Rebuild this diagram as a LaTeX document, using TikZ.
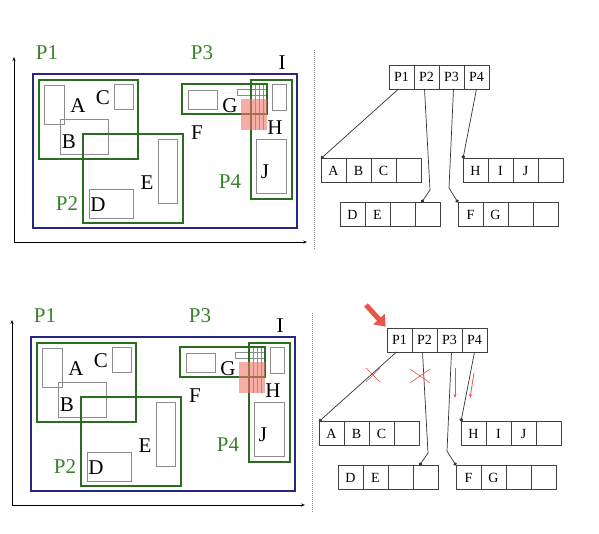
\documentclass[tikz,border=0pt]{standalone}
\usepackage{fontspec}
\setmainfont{Liberation Serif}
\usetikzlibrary{positioning,arrows.meta}
\definecolor{pgreen}{RGB}{40,110,30}
\definecolor{lgreen}{RGB}{55,130,40}
\definecolor{pblue}{RGB}{40,40,130}
\definecolor{pred}{RGB}{235,85,70}
\definecolor{hgray}{RGB}{140,140,140}
\tikzset{
  obj/.style={draw=hgray, line width=0.9pt},
  part/.style={draw=pgreen, line width=1.6pt},
  plabel/.style={text=lgreen, font=\fontsize{21}{21}\selectfont},
  olabel/.style={font=\fontsize{21}{21}\selectfont},
  cell/.style={draw=black!75, line width=0.7pt, minimum width=25pt, minimum height=24pt,
    inner sep=0pt, outer sep=0pt, font=\fontsize{14}{14}\selectfont},
  ptr/.style={draw=black!80, line width=0.7pt, -{Circle[length=3.5pt]}},
}
\begin{document}
\begin{tikzpicture}[x=1pt,y=-1pt]
\useasboundingbox (0,0) rectangle (599,533);
\foreach \dx/\dy/\pn in {0/0/t,-2/263/b}{
\begin{scope}[shift={(\dx,\dy)}, name prefix=\pn-]
  % axes and separator
  \coordinate (o) at (14,242);
  \draw[line width=0.6pt, -{Stealth[length=4pt]}] (o) -- (14,57);
  \draw[line width=0.6pt, -{Stealth[length=4pt]}] (o) -- (307,242);
  \draw[hgray, dash pattern=on 1pt off 1pt, line width=0.7pt] (314,50) -- (314,250);
  % objects
  \draw[obj] (44,85) rectangle (64,124);   % A
  \draw[obj] (114,84) rectangle (133,109); % C
  \draw[obj] (60,119) rectangle (108,154); % B
  \draw[obj] (158,139) rectangle (177,203); % E
  \draw[obj] (89,189) rectangle (133,218); % D
  \draw[obj] (188,90) rectangle (217,109); % F
  \draw[obj] (237,89) rectangle (266,95);  % G
  \draw[obj] (272,84) rectangle (286,110); % I
  \draw[obj] (256,139) rectangle (286,193); % J
  \foreach \gx in {255,259,263}
    \draw[hgray, line width=0.5pt] (\gx,84) -- (\gx,130);
  % partitions
  \draw[part] (39,80) rectangle (138,159);
  \draw[part] (83,134) rectangle (183,223);
  \draw[part] (182,84) rectangle (267,114);
  \draw[part] (251,80) rectangle (292,199);
  \draw[draw=pblue, line width=1.6pt] (33,74) rectangle (297,228);
  \fill[pred!80, opacity=0.6] (241,99) rectangle (267,130);
  % labels
  \node[plabel] (p1) at (47,53) {P1};
  \node[plabel] (p2) at (67,204) {P2};
  \node[plabel] (p3) at (202,53) {P3};
  \node[plabel] (p4) at (230,182) {P4};
  \node[olabel] (la) at (78,106) {A};
  \node[olabel] (lb) at (69,142) {B};
  \node[olabel] (lc) at (103,98) {C};
  \node[olabel] (ld) at (98,205) {D};
  \node[olabel] (le) at (147,183) {E};
  \node[olabel] (lf) at (197,133) {F};
  \node[olabel] (lg) at (230,106) {G};
  \node[olabel] (lh) at (275,128) {H};
  \node[olabel] (li) at (282,63) {I};
  \node[olabel] (lj) at (265,172) {J};
  % tree
  \node[cell] (r1) at (401.5,77) {P1};
  \node[cell, right=0pt of r1] (r2) {P2};
  \node[cell, right=0pt of r2] (r3) {P3};
  \node[cell, right=0pt of r3] (r4) {P4};
  \node[cell] (a1) at (333.5,170.5) {A};
  \node[cell, right=0pt of a1] (a2) {B};
  \node[cell, right=0pt of a2] (a3) {C};
  \node[cell, right=0pt of a3] (a4) {};
  \node[cell] (h1) at (475.5,170.5) {H};
  \node[cell, right=0pt of h1] (h2) {I};
  \node[cell, right=0pt of h2] (h3) {J};
  \node[cell, right=0pt of h3] (h4) {};
  \node[cell] (d1) at (352.5,214.5) {D};
  \node[cell, right=0pt of d1] (d2) {E};
  \node[cell, right=0pt of d2] (d3) {};
  \node[cell, right=0pt of d3] (d4) {};
  \node[cell] (f1) at (470.5,214.5) {F};
  \node[cell, right=0pt of f1] (f2) {G};
  \node[cell, right=0pt of f2] (f3) {};
  \node[cell, right=0pt of f3] (f4) {};
  \draw[ptr] ([xshift=-3pt]r1.south) -- (a1.north west);
  \draw[ptr] ([xshift=-2pt]r2.south) -- (430,190) -- ([xshift=-6pt]d4.north);
  \draw[ptr] ([xshift=2pt]r3.south) -- (449,188) -- (f1.north west);
  \draw[ptr] (r4.south) -- (h1.north west);
\end{scope}}
% search marks
\draw[pred, line width=5pt, shorten >=2pt, -{Triangle[length=10pt,width=15pt]}] (366,305) -- (b-r1.north west);
\draw[pred, line width=0.6pt] (366,368) -- (380,382) (366,382) -- (380,368);
\draw[pred, line width=0.6pt] (410,369) -- (430,383) (410,383) -- (430,369);
\draw[pred, line width=0.8pt, -{Stealth[length=4pt]}] (455,368) -- (455,398);
\draw[pred, line width=0.8pt, -{Stealth[length=4pt]}] (474,373) -- (470,398);
\end{tikzpicture}
\end{document}
